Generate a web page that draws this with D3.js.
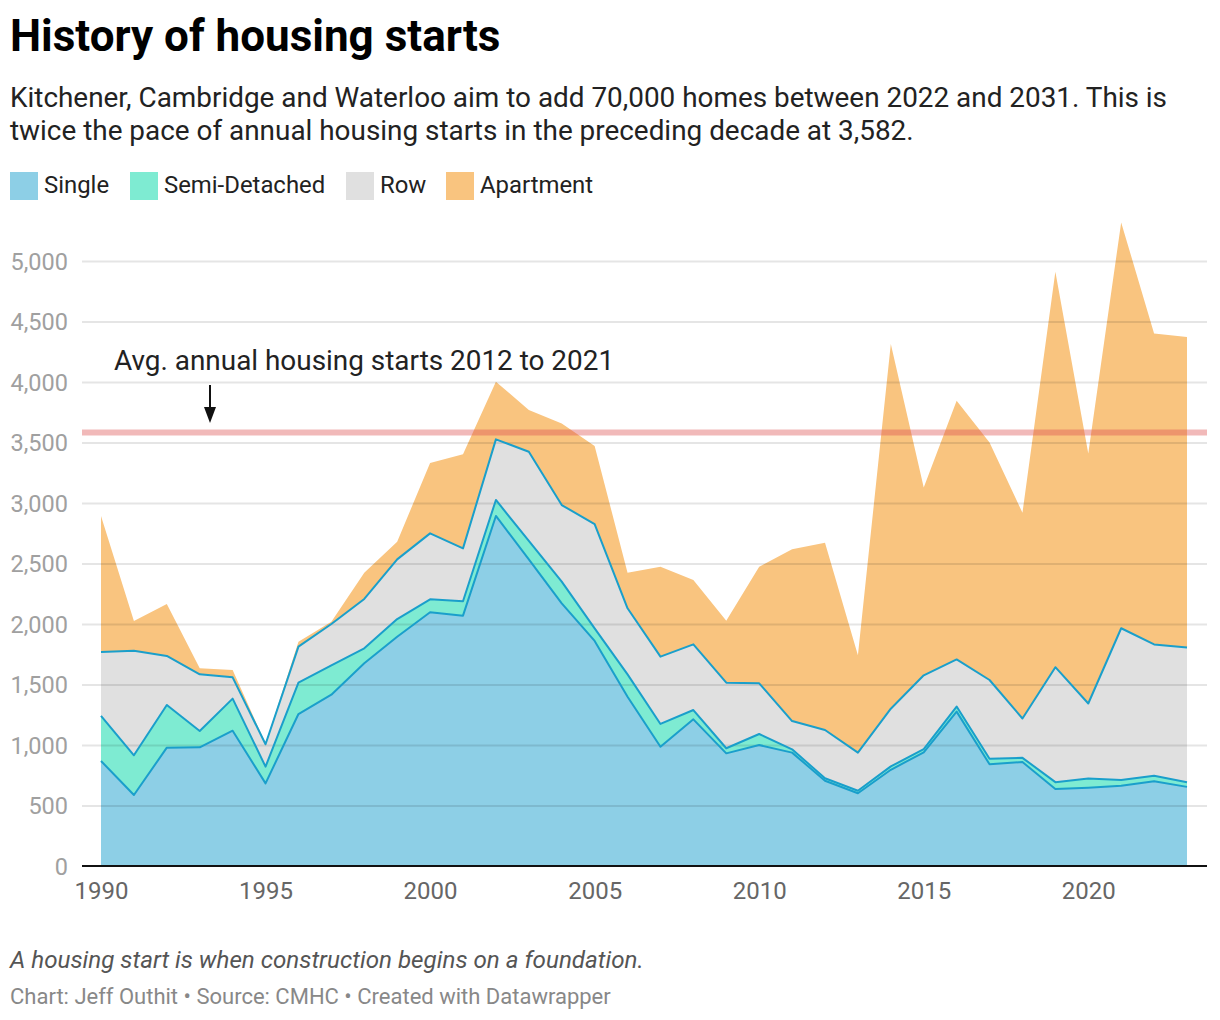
<!DOCTYPE html>
<html>
<head>
<meta charset="utf-8">
<script src="https://cdn.jsdelivr.net/npm/d3@7"></script>
<style>
  body { margin: 0; background: #fff; font-family: Roboto, sans-serif; }
  svg text { font-family: Roboto, sans-serif; }
</style>
</head>
<body>
<svg id="chart" width="1220" height="1020"></svg>
<script>
// --- data ---
const years = d3.range(1990, 2024);
const single = [868, 587, 978, 981, 1118, 683, 1256, 1416, 1675, 1895, 2097, 2069, 2893, 2534, 2171, 1860, 1399, 986, 1212, 931, 1000, 937, 705, 601, 795, 940, 1276, 841, 859, 636, 647, 664, 700, 654];
const semiDetached = [372, 328, 353, 135, 265, 138, 260, 243, 124, 146, 107, 119, 132, 152, 179, 104, 185, 188, 77, 42, 91, 27, 20, 21, 28, 25, 42, 46, 35, 57, 77, 46, 46, 39];
const row = [529, 864, 405, 468, 176, 185, 297, 341, 408, 493, 545, 437, 501, 738, 633, 862, 546, 556, 543, 542, 419, 234, 399, 315, 477, 611, 389, 650, 325, 950, 619, 1255, 1085, 1113];
const apartment = [1124, 246, 429, 50, 61, 6, 41, 19, 217, 146, 582, 777, 477, 345, 675, 645, 294, 743, 532, 512, 963, 1419, 1548, 805, 3015, 1552, 2138, 1962, 1700, 3269, 2067, 3354, 2569, 2566];
const seriesNames = ['Single', 'Semi-Detached', 'Row', 'Apartment'];
const yTicks = [0, 500, 1000, 1500, 2000, 2500, 3000, 3500, 4000, 4500, 5000];
const xTicks = [1990, 1995, 2000, 2005, 2010, 2015, 2020];
const avgStarts = 3582;

const COLORS = {
    'Single': '#8dcfe6',
    'Semi-Detached': '#7eebd2',
    'Row': '#e0e0e0',
    'Apartment': '#f9c47f',
};
const LINE_COLOR = '#1a9fcb';

const rows = years.map((yr, i) => ({
    year: yr,
    'Single': single[i],
    'Semi-Detached': semiDetached[i],
    'Row': row[i],
    'Apartment': apartment[i],
}));

const svg = d3.select('#chart');

// --- header ---
svg.append('text').attr('x', 10).attr('y', 51)
    .attr('fill', '#000').style('font-size', '44px').style('font-weight', 'bold')
    .text('History of housing starts');
svg.append('text').attr('x', 10).attr('y', 107)
    .attr('fill', '#222').style('font-size', '27.9px')
    .text('Kitchener, Cambridge and Waterloo aim to add 70,000 homes between 2022 and 2031. This is');
svg.append('text').attr('x', 10).attr('y', 140)
    .attr('fill', '#222').style('font-size', '27.9px')
    .text('twice the pace of annual housing starts in the preceding decade at 3,582.');

// legend
const legendX = [10, 130, 346, 446];
seriesNames.forEach((name, i) => {
    const g = svg.append('g').attr('transform', `translate(${legendX[i]}, 172)`);
    g.append('rect').attr('width', 28).attr('height', 28).attr('fill', COLORS[name]);
    g.append('text').attr('x', 34).attr('y', 21).attr('fill', '#222')
        .style('font-size', '23.9px').text(name);
});

// --- chart ---
const x = d3.scaleLinear().domain([1990, 2023]).range([101, 1187]);
const y = d3.scaleLinear().domain([0, 5000]).range([866, 261]);

const stack = d3.stack().keys(seriesNames);
const layers = stack(rows);

const area = d3.area()
    .x(d => x(d.data.year))
    .y0(d => y(d[0]))
    .y1(d => y(d[1]));

svg.append('g').selectAll('path').data(layers).join('path')
    .attr('d', area)
    .attr('fill', d => COLORS[d.key]);

// grid on top, faint so the areas show through
const grid = svg.append('g').attr('transform', 'translate(82,0)')
    .call(d3.axisLeft(y).tickValues(yTicks).tickSize(-(1207 - 82)).tickFormat(''));
grid.select('.domain').remove();
grid.selectAll('.tick line').attr('stroke', 'rgba(0,0,0,0.1)').attr('stroke-width', 2);
grid.selectAll('.tick').filter(d => d === 0).remove();

// y labels
const yAxis = svg.append('g').attr('transform', 'translate(68,0)')
    .call(d3.axisLeft(y).tickValues(yTicks).tickSize(0).tickPadding(0).tickFormat(d3.format(',')));
yAxis.select('.domain').remove();
yAxis.selectAll('text').attr('fill', '#a0a0a0').style('font-size', '23.5px').attr('dy', '0.36em');

// boundary lines on top of the lower three layers
const line = d3.line()
    .x(d => x(d.data.year))
    .y(d => y(d[1]));
svg.append('g').selectAll('path').data(layers.slice(0, 3)).join('path')
    .attr('d', line)
    .attr('fill', 'none')
    .attr('stroke', LINE_COLOR)
    .attr('stroke-width', 2)
    .attr('stroke-linejoin', 'round');

// average reference band
svg.append('line')
    .attr('x1', 82).attr('x2', 1207)
    .attr('y1', y(avgStarts)).attr('y2', y(avgStarts))
    .attr('stroke', 'rgba(220,80,80,0.4)').attr('stroke-width', 6);

// baseline
svg.append('line').attr('x1', 82).attr('x2', 1207).attr('y1', 866).attr('y2', 866)
    .attr('stroke', '#111').attr('stroke-width', 2);

// x labels
const xAxis = svg.append('g').attr('transform', 'translate(0,866)')
    .call(d3.axisBottom(x).tickValues(xTicks).tickSize(0).tickPadding(0).tickFormat(d3.format('d')));
xAxis.select('.domain').remove();
xAxis.selectAll('text').attr('fill', '#666').style('font-size', '24px').attr('dy', '0').attr('y', 33);

// annotation
svg.append('text').attr('x', 114).attr('y', 370)
    .attr('fill', '#222').style('font-size', '27.9px')
    .text('Avg. annual housing starts 2012 to 2021');
svg.append('line').attr('x1', 210).attr('x2', 210).attr('y1', 385).attr('y2', 412)
    .attr('stroke', '#111').attr('stroke-width', 2);
svg.append('path').attr('d', 'M204,407 L216,407 L210,423 Z').attr('fill', '#111');

// footer
svg.append('text').attr('x', 10).attr('y', 968)
    .attr('fill', '#555').style('font-size', '24.2px').style('font-style', 'italic')
    .text('A housing start is when construction begins on a foundation.');
svg.append('text').attr('x', 10).attr('y', 1004)
    .attr('fill', '#888').style('font-size', '22px')
    .text('Chart: Jeff Outhit • Source: CMHC • Created with Datawrapper');
</script>
</body>
</html>
